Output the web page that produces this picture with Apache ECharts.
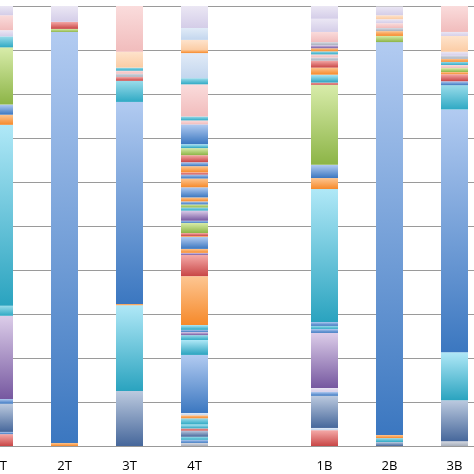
<!DOCTYPE html>
<html>
<head>
<meta charset="utf-8">
<script src="https://cdn.jsdelivr.net/npm/echarts@6/dist/echarts.min.js"></script>
<style>html,body{margin:0;padding:0;background:#fff}#chart{width:474px;height:474px}</style>
</head>
<body>
<div id="chart"></div>
<script>
// 样本名称（第五列为空位）
const categories = ['1T', '2T', '3T', '4T', '', '1B', '2B', '3B'];

// 每根柱子的相对丰度 (%)，自上而下
const values1T = [2.5, 3.4, 1.4, 2.5, 13.0, 2.3, 2.3, 41.1, 2.3, 18.9, 1.1, 6.4, 0.5, 2.7];
const colors1T = 'L K L T G B O C T P B S B R'.split(' ');
const values2T = [3.6, 1.6, 0.7, 93.4, 0.7];
const colors2T = 'L R G B O'.split(' ');
const values3T = [10.5, 3.6, 0.7, 0.7, 0.7, 0.9, 4.8, 45.9, 0.3, 19.5, 12.5];
const colors3T = 'K E T K Y R T B O C S'.split(' ');
const values4T = [5.5, 2.7, 2.3, 0.7, 5.7, 1.4, 7.3, 0.9, 0.9, 4.5, 0.9, 1.6, 1.6, 0.9, 1.4, 0.5,
  0.9, 2.0, 2.3, 0.9, 0.7, 0.7, 0.7, 2.3, 0.5, 2.3, 0.7, 0.2, 2.7, 0.9, 0.5, 4.8, 11.1, 1.1,
  0.5, 0.7, 1.1, 3.4, 13.2, 0.5, 0.7, 1.4, 0.9, 0.5, 1.4, 0.7, 0.7, 0.7];
const colors4T = ('L W E O W T K T K B C G R B O R B O B O B G T P B G R O B O P R O C B P T C B W O T C R S T B Y').split(' ');
const valuesGap = [];
const colorsGap = [];
const values1B = [3.2, 3.0, 2.3, 0.7, 0.7, 0.7, 0.7, 0.7, 0.7, 1.6, 1.6, 1.8, 0.5, 18.2, 3.0, 2.5,
  30.2, 0.9, 0.7, 0.9, 12.5, 0.9, 0.9, 7.3, 0.5, 3.6];
const colors1B = 'L L K Y P O T K Y R O C R G B O C B T B P L B S W R'.split(' ');
const values2B = [2.0, 0.9, 0.9, 1.1, 0.7, 1.1, 1.4, 89.3, 0.7, 0.9, 0.9];
const colors2B = 'L E L K Y O G B O T S'.split(' ');
const values3B = [5.9, 0.9, 3.6, 0.9, 0.7, 0.7, 0.7, 0.7, 0.9, 0.5, 1.6, 0.9, 5.5, 55.2, 10.9, 9.3, 1.1];
const colors3B = 'K L E L Y O T K G O R B T B C S Y'.split(' ');

const palette = {
    B: ['#b2cbf1', '#3b77c0'], C: ['#b0e8f7', '#2aa3bf'], G: ['#d8ecaa', '#8cb446'],
    O: ['#fdc692', '#f6892a'], R: ['#f5aaa8', '#c84646'], P: ['#dccde9', '#7658a0'],
    K: ['#fadcdc', '#f1bcbc'], L: ['#ebe7f4', '#d4cde8'], E: ['#fee3cc', '#fbcca4'],
    S: ['#bccadf', '#46679b'], T: ['#9adcea', '#2fa9c4'], Y: ['#d6dae2', '#a7afbc'],
    W: ['#e1ebf7', '#c3d6ee']
};

const bars = [
    [values1T, colors1T], [values2T, colors2T], [values3T, colors3T], [values4T, colors4T],
    [valuesGap, colorsGap], [values1B, colors1B], [values2B, colors2B], [values3B, colors3B]
].map(([v, c]) => ({ v: v.slice().reverse(), c: c.slice().reverse() }));

const maxLen = Math.max(...bars.map(b => b.v.length));
const series = [];
for (let i = 0; i < maxLen; i++) {
    series.push({
        type: 'bar', stack: 'all', barWidth: 27,
        data: bars.map(b => {
            if (i >= b.v.length) return '-';
            const p = palette[b.c[i]];
            return {
                value: b.v[i],
                itemStyle: { color: new echarts.graphic.LinearGradient(0, 0, 0, 1, [
                    { offset: 0, color: p[0] }, { offset: 1, color: p[1] }]) }
            };
        })
    });
}

const myChart = echarts.init(document.getElementById('chart'));
myChart.setOption({
    animation: false,
    grid: { left: -33, width: 520, top: 6, bottom: 28, outerBoundsMode: 'none', containLabel: false },
    xAxis: {
        type: 'category', data: categories,
        axisLine: { lineStyle: { color: '#999' } },
        axisTick: { lineStyle: { color: '#999' }, length: 5 },
        axisLabel: { color: '#000', fontSize: 13, fontFamily: 'Open Sans', margin: 14 }
    },
    yAxis: {
        type: 'value', min: 0, max: 100, interval: 10,
        axisLabel: { show: false }, axisLine: { show: false }, axisTick: { show: false },
        splitLine: { lineStyle: { color: '#9a9a9a', width: 1 } }
    },
    series: series
});
</script>
</body>
</html>
